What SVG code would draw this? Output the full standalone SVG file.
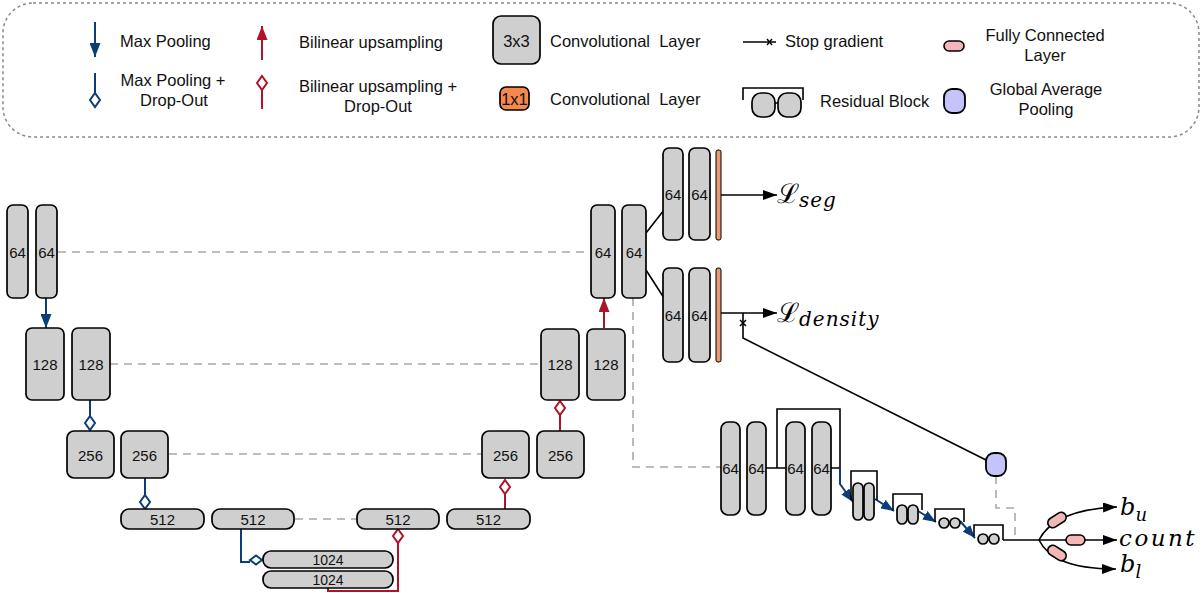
<svg xmlns="http://www.w3.org/2000/svg" width="1204" height="593" viewBox="0 0 1204 593">
<defs>
<style>
.box{fill:#cfcfcf;stroke:#000;stroke-width:1.7}
.lbl{font-family:"Liberation Sans",Arial,sans-serif;font-size:15px;fill:#111;text-anchor:middle;dominant-baseline:central}
.sm{font-size:14px}
.leg{font-family:"Liberation Sans",Arial,sans-serif;font-size:16.5px;fill:#111}
.mid{text-anchor:middle}
.skip{fill:none;stroke:#a8a8a8;stroke-width:1.6;stroke-dasharray:8,6}
.blue{fill:none;stroke:#0b3d78;stroke-width:2}
.red{fill:none;stroke:#b0122c;stroke-width:2}
.bdia{fill:#fff;stroke:#0b3d78;stroke-width:2}
.rdia{fill:#fff;stroke:#b0122c;stroke-width:2}
.blk{fill:none;stroke:#000;stroke-width:1.6}
.bar{fill:#e99a73;stroke:#000;stroke-width:1}
.fc{fill:#f4b6b6;stroke:#000;stroke-width:1.6}
.gap{fill:#c4c4fa;stroke:#000;stroke-width:1.8}
.math{font-family:"DejaVu Serif","Liberation Serif",serif;font-style:italic;fill:#000}
</style>
<marker id="ab" viewBox="0 0 14 11" refX="14" refY="5.5" markerWidth="14" markerHeight="11" markerUnits="userSpaceOnUse" orient="auto"><path d="M0,0 L14,5.5 L0,11 z" fill="#0b3d78"/></marker>
<marker id="ab2" viewBox="0 0 13 10" refX="13" refY="5" markerWidth="13" markerHeight="10" markerUnits="userSpaceOnUse" orient="auto"><path d="M0,0 L13,5 L0,10 z" fill="#0b3d78"/></marker>
<marker id="ar" viewBox="0 0 14 11" refX="14" refY="5.5" markerWidth="14" markerHeight="11" markerUnits="userSpaceOnUse" orient="auto"><path d="M0,0 L14,5.5 L0,11 z" fill="#b0122c"/></marker>
<marker id="ak" viewBox="0 0 14 10" refX="14" refY="5" markerWidth="14" markerHeight="10" markerUnits="userSpaceOnUse" orient="auto"><path d="M0,0 L14,5 L0,10 z" fill="#000"/></marker>
<path id="dv" d="M0,-7 L5,0 L0,7 L-5,0 z"/>
<path id="dh" d="M-6,0 L0,-4.5 L6,0 L0,4.5 z"/>
</defs>
<rect width="1204" height="593" fill="#fff"/>

<g id="legend">
<rect x="3" y="3" width="1196" height="134" rx="30" fill="none" stroke="#8a8a8a" stroke-width="1.5" stroke-dasharray="3,3"/>
<line x1="95" y1="22" x2="95" y2="57" class="blue" marker-end="url(#ab)"/>
<text x="120" y="47" class="leg">Max Pooling</text>
<line x1="95" y1="73" x2="95" y2="93" class="blue"/>
<use href="#dv" x="95" y="100" class="bdia"/>
<text x="173" y="86" class="leg mid">Max Pooling +</text>
<text x="174" y="106" class="leg mid">Drop-Out</text>
<line x1="262" y1="60" x2="262" y2="26" class="red" marker-end="url(#ar)"/>
<text x="299" y="48" class="leg">Bilinear upsampling</text>
<line x1="262" y1="109" x2="262" y2="90" class="red"/>
<use href="#dv" x="262" y="83" class="rdia"/>
<text x="378" y="92" class="leg mid">Bilinear upsampling +</text>
<text x="378" y="112" class="leg mid">Drop-Out</text>
<rect x="493" y="16" width="47" height="48" rx="8" class="box"/>
<text x="516.5" y="47" class="leg mid" font-size="17">3x3</text>
<text x="550" y="47" class="leg">Convolutional&#160; Layer</text>
<rect x="500" y="87" width="29" height="23" rx="6" fill="#f4894b" stroke="#000" stroke-width="1.7"/>
<text x="514.5" y="104.5" class="leg mid">1x1</text>
<text x="550" y="105" class="leg">Convolutional&#160; Layer</text>
<line x1="743" y1="42" x2="776" y2="42" stroke="#000" stroke-width="1.4"/>
<path d="M767,39 L772,45 M772,39 L767,45" stroke="#000" stroke-width="1.4"/>
<text x="785" y="47" class="leg">Stop gradient</text>
<path d="M743,100 V88 H803 V100" class="blk"/>
<rect x="752" y="93" width="23" height="24" rx="9" class="box"/>
<rect x="778" y="93" width="23" height="24" rx="9" class="box"/>
<line x1="775" y1="103" x2="778" y2="103" stroke="#000" stroke-width="1.5"/>
<text x="820" y="107" class="leg">Residual Block</text>
<rect x="944" y="41" width="20" height="10" rx="5" class="fc"/>
<text x="1045" y="41" class="leg mid">Fully Connected</text>
<text x="1045" y="61" class="leg mid">Layer</text>
<rect x="944" y="89" width="21" height="24" rx="8" class="gap"/>
<text x="1046" y="95" class="leg mid">Global Average</text>
<text x="1046" y="115" class="leg mid">Pooling</text>
</g>

<g id="connectors">
<path d="M58,252 H590" class="skip"/>
<path d="M110,364 H540" class="skip"/>
<path d="M169,454 H481" class="skip"/>
<path d="M295,519 H357" class="skip"/>
<path d="M633,298 V467 H721" class="skip"/>
<path d="M996,476 V508 H1015 V540" class="skip"/>
<line x1="46" y1="298" x2="46" y2="328" class="blue" marker-end="url(#ab)"/>
<path d="M90,400 V416 M90,430 V431" class="blue"/>
<use href="#dv" x="90" y="423" class="bdia"/>
<path d="M145,478 V495" class="blue"/>
<use href="#dv" x="145" y="502" class="bdia"/>
<path d="M241,529 V562 H250" class="blue"/>
<use href="#dh" x="256" y="560" class="bdia"/>
<path d="M328,588 V591 H398 V543" class="red"/>
<use href="#dv" x="398" y="536" class="rdia"/>
<path d="M505,509 V494" class="red"/>
<use href="#dv" x="505" y="487" class="rdia"/>
<path d="M560,431 V415" class="red"/>
<use href="#dv" x="560" y="408" class="rdia"/>
<line x1="604" y1="328" x2="604" y2="298" class="red" marker-end="url(#ar)"/>
<path d="M646,233 L664,210 M646,270 L664,298" class="blk"/>
<line x1="721" y1="195" x2="777" y2="195" stroke="#000" stroke-width="1.6" marker-end="url(#ak)"/>
<line x1="721" y1="313" x2="777" y2="313" stroke="#000" stroke-width="1.6" marker-end="url(#ak)"/>
<path d="M743,313 V338 L988,461" class="blk"/>
<path d="M740,320 L746,326 M746,320 L740,326" stroke="#000" stroke-width="1.5"/>
<path d="M766,468 H786 M831,468 H840 M777,468 V409 H840 V468" class="blk"/>
<path d="M840,468 V484 L853,502" class="blue" marker-end="url(#ab2)"/>
<line x1="875" y1="499" x2="894" y2="511" class="blue" marker-end="url(#ab2)"/>
<line x1="918" y1="511" x2="936" y2="522" class="blue" marker-end="url(#ab2)"/>
<line x1="960" y1="521" x2="975" y2="538" class="blue" marker-end="url(#ab2)"/>
<path d="M1003,540 H1039" class="blk"/>
<path d="M1039,540 C1047,524 1066,509 1117,507" class="blk" marker-end="url(#ak)"/>
<path d="M1039,540 H1117" class="blk" marker-end="url(#ak)"/>
<path d="M1039,540 C1047,556 1066,569 1116,569" class="blk" marker-end="url(#ak)"/>
</g>

<g id="enc64a"><rect x="7" y="205" width="21" height="93" rx="6" class="box"/><text x="17.5" y="252" class="lbl">64</text></g>
<g id="enc64b"><rect x="36" y="205" width="21" height="93" rx="6" class="box"/><text x="46.5" y="252" class="lbl">64</text></g>
<g id="enc128a"><rect x="26" y="328" width="38" height="72" rx="6" class="box"/><text x="45" y="364" class="lbl">128</text></g>
<g id="enc128b"><rect x="72" y="328" width="38" height="72" rx="6" class="box"/><text x="91" y="364" class="lbl">128</text></g>
<g id="enc256a"><rect x="67" y="431" width="47" height="47" rx="7" class="box"/><text x="90.5" y="455" class="lbl">256</text></g>
<g id="enc256b"><rect x="121" y="431" width="47" height="47" rx="7" class="box"/><text x="144.5" y="455" class="lbl">256</text></g>
<g id="enc512a"><rect x="121" y="509" width="83" height="20" rx="8" class="box"/><text x="162.5" y="519.5" class="lbl">512</text></g>
<g id="enc512b"><rect x="212" y="509" width="82" height="20" rx="8" class="box"/><text x="253" y="519.5" class="lbl">512</text></g>
<g id="bot1024a"><rect x="263" y="551" width="130" height="17" rx="8" class="box"/><text x="328" y="560" class="lbl sm">1024</text></g>
<g id="bot1024b"><rect x="263" y="571" width="130" height="17" rx="8" class="box"/><text x="328" y="580" class="lbl sm">1024</text></g>
<g id="dec512a"><rect x="357" y="509" width="82" height="20" rx="8" class="box"/><text x="398" y="519.5" class="lbl">512</text></g>
<g id="dec512b"><rect x="447" y="509" width="83" height="20" rx="8" class="box"/><text x="488.5" y="519.5" class="lbl">512</text></g>
<g id="dec256a"><rect x="482" y="431" width="47" height="47" rx="7" class="box"/><text x="505.5" y="455" class="lbl">256</text></g>
<g id="dec256b"><rect x="537" y="431" width="47" height="47" rx="7" class="box"/><text x="560.5" y="455" class="lbl">256</text></g>
<g id="dec128a"><rect x="541" y="329" width="38" height="71" rx="6" class="box"/><text x="560" y="364" class="lbl">128</text></g>
<g id="dec128b"><rect x="587" y="329" width="38" height="71" rx="6" class="box"/><text x="606" y="364" class="lbl">128</text></g>
<g id="dec64a"><rect x="591" y="205" width="24" height="93" rx="6" class="box"/><text x="603" y="252" class="lbl">64</text></g>
<g id="dec64b"><rect x="622" y="205" width="24" height="93" rx="6" class="box"/><text x="634" y="252" class="lbl">64</text></g>

<g id="seghead">
<rect x="663" y="148" width="20" height="92" rx="6" class="box"/><text x="673" y="194" class="lbl">64</text>
<rect x="689" y="148" width="21" height="92" rx="6" class="box"/><text x="699.5" y="194" class="lbl">64</text>
<rect x="716" y="150" width="5" height="90" rx="2" class="bar"/>
<text x="777" y="203" class="math" font-size="27"><tspan font-style="normal">ℒ</tspan><tspan font-size="20" dy="4" letter-spacing="1">seg</tspan></text>
</g>
<g id="densityhead">
<rect x="663" y="268" width="20" height="94" rx="6" class="box"/><text x="673" y="315" class="lbl">64</text>
<rect x="689" y="268" width="21" height="94" rx="6" class="box"/><text x="699.5" y="315" class="lbl">64</text>
<rect x="716" y="268" width="5" height="94" rx="2" class="bar"/>
<text x="777" y="322" class="math" font-size="27"><tspan font-style="normal">ℒ</tspan><tspan font-size="20" dy="4" letter-spacing="1">density</tspan></text>
</g>

<g id="res64a"><rect x="721" y="422" width="19" height="93" rx="7" class="box"/><text x="730.5" y="468" class="lbl">64</text></g>
<g id="res64b"><rect x="747" y="422" width="19" height="93" rx="7" class="box"/><text x="756.5" y="468" class="lbl">64</text></g>
<g id="res64c"><rect x="786" y="422" width="19" height="93" rx="7" class="box"/><text x="795.5" y="468" class="lbl">64</text></g>
<g id="res64d"><rect x="812" y="422" width="19" height="93" rx="7" class="box"/><text x="821.5" y="468" class="lbl">64</text></g>

<g id="resblock1">
<path d="M851,500 V471 H877 V500" class="blk"/>
<rect x="853" y="483" width="10" height="37" rx="5" class="box"/>
<rect x="864" y="483" width="10" height="37" rx="5" class="box"/>
</g>
<g id="resblock2">
<path d="M893,510 V494 H922 V510" class="blk"/>
<rect x="897" y="505" width="10" height="19" rx="5" class="box"/>
<rect x="908" y="505" width="10" height="19" rx="5" class="box"/>
</g>
<g id="resblock3">
<path d="M935,522 V509 H964 V522" class="blk"/>
<circle cx="944" cy="523" r="5" class="box"/>
<circle cx="955" cy="523" r="5" class="box"/>
</g>
<g id="resblock4">
<path d="M974,536 V525 H1003 V540" class="blk"/>
<circle cx="983" cy="539" r="5" class="box"/>
<circle cx="994" cy="539" r="5" class="box"/>
</g>

<g id="gap"><rect x="986" y="453" width="20" height="23" rx="8" class="gap"/></g>
<g id="fc1"><rect x="-10" y="-5" width="20" height="10" rx="5" class="fc" transform="translate(1057,520) rotate(-33)"/></g>
<g id="fc2"><rect x="1066" y="535" width="19" height="10" rx="5" class="fc"/></g>
<g id="fc3"><rect x="-10" y="-5" width="20" height="10" rx="5" class="fc" transform="translate(1057,553) rotate(33)"/></g>

<g id="outputs">
<text x="1120" y="515" class="math" font-size="24">b<tspan font-size="18" dy="6">u</tspan></text>
<text x="1119" y="546" class="math" font-size="23" letter-spacing="2.5">count</text>
<text x="1120" y="572" class="math" font-size="24">b<tspan font-size="18" dy="6">l</tspan></text>
</g>
</svg>
